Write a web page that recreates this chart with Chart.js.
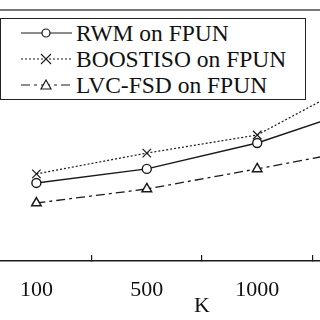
<!DOCTYPE html>
<html>
<head>
<meta charset="utf-8">
<script src="https://cdn.jsdelivr.net/npm/chart.js@4/dist/chart.umd.min.js"></script>
<style>
  html, body { margin: 0; padding: 0; background: #fff; width: 320px; height: 320px; overflow: hidden; }
  #wrap { position: absolute; left: -26px; top: 0; width: 456px; height: 320px; }
  #legend {
    position: absolute; left: 0; top: 18px; width: 304px; height: 80px;
    border: 1.5px solid #222; background: #fff;
    font-family: "Liberation Serif", "Times New Roman", serif; font-size: 23.5px; color: #111;
  }
  .item { position: absolute; left: 0; height: 26px; display: flex; align-items: center; }
  .item svg { margin-left: 19px; margin-right: 4px; }
</style>
</head>
<body>
<div id="wrap"><canvas id="myChart"></canvas></div>
<div id="legend"></div>
<script>
const categories = ['100', '500', '1000', '2000'];
const rwm = [31.1, 36.7, 47.0, 61.8];
const boostiso = [34.7, 43.0, 50.2, 73.7];
const lvcfsd = [23.1, 28.7, 36.7, 45.0];
const seriesNames = ['RWM on FPUN', 'BOOSTISO on FPUN', 'LVC-FSD on FPUN'];

const ink = '#1a1a1a';

const data = {
    labels: categories,
    datasets: [{
        label: seriesNames[0],
        data: rwm,
        borderColor: ink,
        borderWidth: 1.5,
        pointStyle: 'circle',
        pointRadius: 4.5,
        pointBorderWidth: 1.4,
        pointBackgroundColor: '#fff',
        pointBorderColor: ink,
        fill: false
    }, {
        label: seriesNames[1],
        data: boostiso,
        borderColor: ink,
        borderWidth: 1.2,
        borderDash: [2, 2],
        pointStyle: 'crossRot',
        pointRadius: 6,
        pointBorderWidth: 1.2,
        pointBorderColor: ink,
        fill: false
    }, {
        label: seriesNames[2],
        data: lvcfsd,
        borderColor: ink,
        borderWidth: 1.3,
        borderDash: [9, 4, 3, 4],
        pointStyle: 'triangle',
        pointRadius: 5.5,
        pointBorderWidth: 1.5,
        pointBackgroundColor: '#fff',
        pointBorderColor: ink,
        fill: false
    }]
};

const config = {
    type: 'line',
    data: data,
    options: {
        animation: false,
        responsive: true,
        maintainAspectRatio: false,
        layout: { padding: { top: 10, left: 0, right: 0, bottom: 0 } },
        plugins: { legend: { display: false }, tooltip: { enabled: false } },
        scales: {
            x: {
                offset: true,
                grid: { offset: true, drawOnChartArea: false, tickLength: -6, color: ink, lineWidth: 1.2 },
                border: { display: true, color: ink, width: 1.5 },
                ticks: {
                    padding: 24,
                    color: '#111',
                    font: { family: 'Liberation Serif', size: 22, lineHeight: 1 }
                },
                title: {
                    display: true,
                    text: 'K',
                    color: '#111',
                    font: { family: 'Liberation Serif', size: 22, lineHeight: 1 },
                    padding: { top: -29.5, bottom: 2.5 }
                }
            },
            x2: {
                position: 'top',
                labels: categories,
                offset: true,
                grid: { display: false, drawTicks: false },
                ticks: { display: false },
                border: { display: true, color: '#777', width: 2 }
            },
            y: {
                display: false,
                min: 0,
                max: 100
            }
        }
    }
};

new Chart(document.getElementById('myChart'), config);

// legend drawn as html, entries taken from the dataset options
const legend = document.getElementById('legend');
data.datasets.forEach((ds, i) => {
    const row = document.createElement('div');
    row.className = 'item';
    row.style.top = (1 + i * 26) + 'px';
    const dash = ds.borderDash ? ds.borderDash.join(',') : 'none';
    let marker = '';
    if (ds.pointStyle === 'circle') marker = '<circle cx="26" cy="13" r="4" fill="#fff" stroke="#1a1a1a" stroke-width="1.2"/>';
    if (ds.pointStyle === 'crossRot') marker = '<path d="M21 8 L31 18 M31 8 L21 18" stroke="#1a1a1a" stroke-width="1.1"/>';
    if (ds.pointStyle === 'triangle') marker = '<path d="M26 8 L31 17 L21 17 Z" fill="#fff" stroke="#1a1a1a" stroke-width="1.2"/>';
    row.innerHTML = '<svg width="52" height="26"><line x1="1" y1="13" x2="52" y2="13" stroke="#1a1a1a" stroke-width="1.2" stroke-dasharray="' + dash + '"/>' + marker + '</svg><span>' + ds.label + '</span>';
    legend.appendChild(row);
});
</script>
</body>
</html>
